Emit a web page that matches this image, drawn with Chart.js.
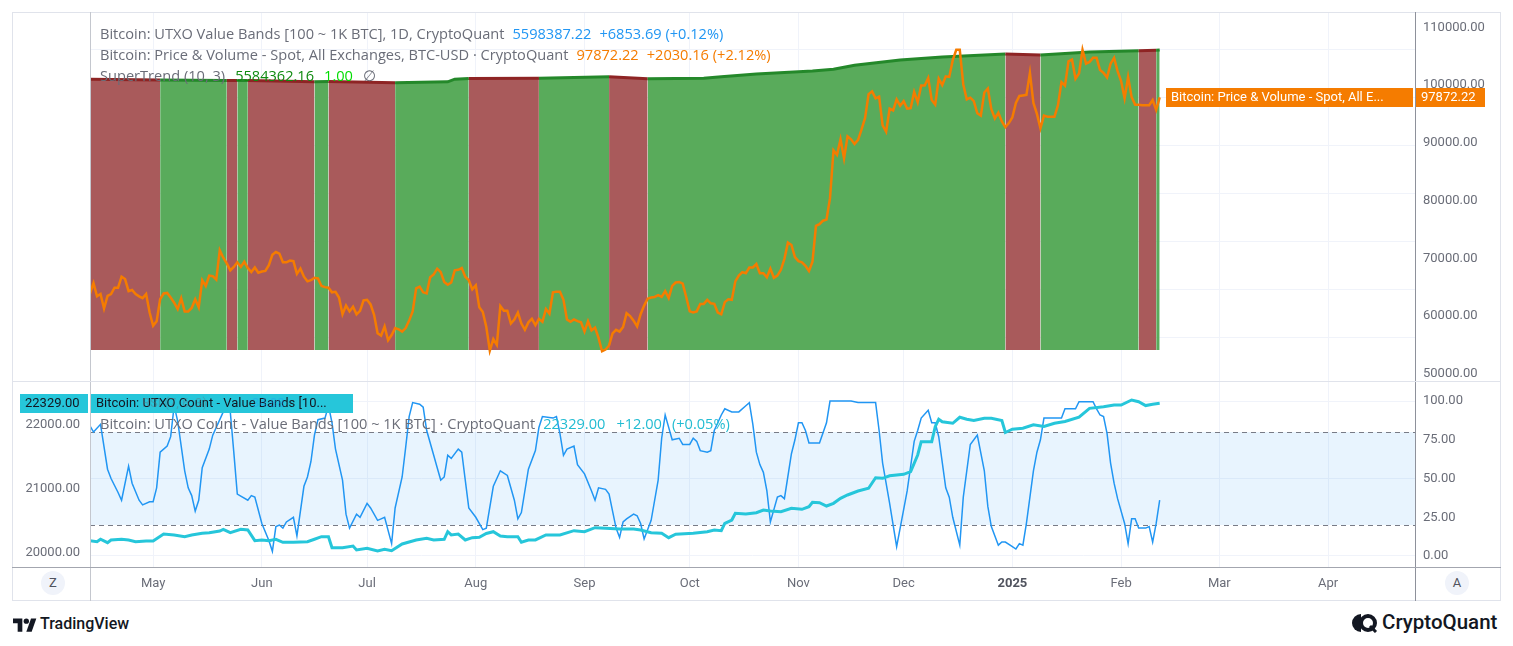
<!DOCTYPE html>
<html>
<head>
<meta charset="utf-8">
<title>Bitcoin: UTXO Value Bands [100 ~ 1K BTC]</title>
<script src="https://cdn.jsdelivr.net/npm/chart.js"></script>
<style>
  html, body { margin: 0; padding: 0; background: #ffffff; }
  body { position: relative; width: 1513px; height: 646px; overflow: hidden;
         font-family: Roboto, "Noto Sans", sans-serif; color: #6a6d78; }
  canvas { position: absolute; }
  #topPane { left: 12px; top: 13px; }
  #bottomPane { left: 12px; top: 381px; }
  .rule { position: absolute; }
  .legend { position: absolute; font-family: "Open Sans", "Noto Sans", sans-serif; font-size: 14.6px;
            line-height: 18px; white-space: nowrap; color: #6a6d78; }
  .legend span { margin-left: 8px; }
  .legend span.t { margin-left: 0; }
  .btn { position: absolute; width: 24px; height: 24px; border-radius: 50%; background: #f0f3fa;
         font-size: 13px; line-height: 24px; text-align: center; color: #50535e; }
  .brand { position: absolute; color: #131722; white-space: nowrap; }
</style>
</head>
<body>
<canvas id="topPane" width="1488" height="368"></canvas>
<canvas id="bottomPane" width="1488" height="219"></canvas>

<!-- frame of the chart -->
<div class="rule" style="left:12px;top:12px;width:1489px;height:589px;border:1px solid #e0e3eb;box-sizing:border-box"></div>
<div class="rule" style="left:90px;top:12px;width:1px;height:589px;background:#c4c7ce"></div>
<div class="rule" style="left:1415px;top:12px;width:1px;height:589px;background:#8e919b"></div>
<div class="rule" style="left:12px;top:381px;width:1489px;height:1px;background:#e0e3eb"></div>
<div class="rule" style="left:12px;top:567px;width:1489px;height:1px;background:#a3a6af"></div>
<div class="btn" style="left:41px;top:571px">Z</div>
<div class="btn" style="left:1445px;top:571px">A</div>

<!-- legends -->
<div class="legend" style="left:100px;top:24px"><span class="t">Bitcoin: UTXO Value Bands [100 ~ 1K BTC], 1D, CryptoQuant</span><span style="color:#2196f3">5598387.22</span><span style="color:#2196f3">+6853.69 (+0.12%)</span></div>
<div class="legend" style="left:100px;top:45px"><span class="t">Bitcoin: Price &amp; Volume - Spot, All Exchanges, BTC-USD · CryptoQuant</span><span style="color:#f57c00">97872.22</span><span style="color:#f57c00">+2030.16 (+2.12%)</span></div>
<div class="legend" style="left:100px;top:66px"><span class="t">SuperTrend (10, 3)</span><span style="color:#0f8a0f;margin-left:10px">5584362.16</span><span style="color:#00dd00;margin-left:10px">1.00</span><span style="margin-left:10px">∅</span></div>
<div class="legend" style="left:100px;top:414px"><span class="t">Bitcoin: UTXO Count - Value Bands [100 ~ 1K BTC] · CryptoQuant</span><span style="color:#22bcd2">22329.00</span><span style="color:#22bcd2;margin-left:11px">+12.00</span><span style="color:#22bcd2;margin-left:10px">(+0.05%)</span></div>

<!-- footer brands -->
<svg class="brand" style="left:13px;top:617px" width="24" height="15" viewBox="0 0 36 22">
  <path d="M14 22H7V9H0V2h14z" fill="#131722"/>
  <circle cx="20" cy="6" r="4" fill="#131722"/>
  <path d="M28 22h-8l7-20h8z" fill="#131722"/>
</svg>
<div class="brand" style="left:40px;top:614px;font-size:16px;line-height:20px;font-weight:500">TradingView</div>
<svg class="brand" style="left:1351px;top:613px" width="28" height="20" viewBox="0 0 28 20">
  <path d="M10 1 A9 9 0 0 0 10 19 Z" fill="#131722"/>
  <circle cx="17" cy="10" r="7" fill="none" stroke="#131722" stroke-width="4"/>
  <path d="M19 13 L25 19" stroke="#131722" stroke-width="3"/>
</svg>
<div class="brand" style="left:1382px;top:610px;font-size:20.5px;line-height:24px;font-weight:500">CryptoQuant</div>

<script>
const FONT = 'Roboto, "Noto Sans", sans-serif';
const START_DATE = '2024-04-13';   // first candle, x = day 0
const DAY_MS = 864e5;

// BTC-USD daily close, 2024-04-13 .. 2025-02-12
const priceApr = [63900, 65700, 63400, 63800, 61300, 63500, 63800, 64900, 64900, 66800, 66400, 64300, 64500, 63800, 63400, 63100, 63800, 60600];
const priceMay = [58300, 59100, 62900, 63900, 64000, 63200, 62300, 61200, 63100, 60800, 60800, 61400, 62900, 61500, 66200, 65200, 67000, 66900, 66300, 71400, 70100, 69100, 67900, 68500, 69300, 68500, 69400, 68300, 67600, 68400, 67500];
const priceJun = [67700, 67800, 68800, 70600, 71100, 70800, 69300, 69300, 69600, 69500, 67300, 68200, 66800, 66000, 66200, 66600, 66500, 65200, 65000, 64900, 64100, 64200, 63200, 60300, 61800, 60800, 61600, 60300, 60900, 62700];
const priceJul = [62800, 62000, 60200, 57000, 56600, 58200, 55800, 56700, 57900, 57700, 57300, 57900, 59200, 60800, 64800, 65100, 64100, 63900, 66700, 67200, 68200, 67600, 65900, 65400, 65800, 67900, 68000, 68300, 66800, 66200, 64600];
const priceAug = [65300, 61500, 60700, 58100, 54000, 56000, 55000, 61700, 60900, 60900, 58700, 59400, 60600, 58700, 57600, 58900, 59500, 58400, 59500, 59000, 61200, 60400, 64100, 64200, 64200, 62800, 59400, 59000, 59400, 59100, 58900];
const priceSep = [57300, 59100, 57500, 58000, 56200, 53900, 54200, 54900, 57000, 57600, 57300, 58100, 60500, 60000, 59200, 58200, 60300, 61800, 63000, 63200, 63300, 63600, 63300, 64300, 63100, 65200, 65800, 65900, 65600, 63300];
const priceOct = [60800, 60600, 60800, 62100, 62100, 62800, 62200, 62100, 60600, 60300, 62400, 62900, 62800, 66000, 67000, 67600, 67400, 68400, 68400, 69000, 67400, 67400, 66700, 68200, 66600, 67000, 68000, 69900, 72700, 72300, 70200];
const priceNov = [69500, 69300, 68700, 67800, 69400, 75600, 75900, 76500, 76700, 80400, 88700, 87900, 90600, 87300, 91100, 90600, 89800, 90500, 92300, 94300, 98400, 98900, 97700, 98000, 93000, 91900, 95900, 95600, 97500, 96400];
const priceDec = [97200, 95900, 96000, 98800, 97000, 99900, 99900, 101200, 97400, 96600, 101100, 100000, 101500, 101400, 104300, 106100, 106100, 100100, 97500, 97800, 97200, 95100, 94700, 98700, 99400, 95800, 94200, 95200, 93700, 92700, 93400];
const priceJan = [94400, 96900, 98100, 98200, 98300, 102100, 96900, 95000, 92500, 94700, 94500, 94500, 94500, 96500, 100500, 99900, 104100, 104400, 101100, 102000, 106100, 103700, 104000, 104700, 104700, 102600, 102100, 101300, 103700, 104700, 102400];
const priceFeb = [100700, 97700, 101400, 97900, 96600, 96600, 96500, 96500, 96500, 97400, 95700, 97872.22];
const priceClose = [].concat(priceApr, priceMay, priceJun, priceJul, priceAug, priceSep, priceOct, priceNov, priceDec, priceJan, priceFeb);

// UTXO value band line (millions), SuperTrend direction of the run that starts at each point
const bandDay   = [0, 20, 39, 42, 45, 64, 68, 87, 102, 104, 108, 128, 148, 159, 175, 180, 190, 206, 212, 218, 231, 243, 261, 271, 285, 299, 304, 305];
const bandValue = [4.988, 4.973, 4.960, 4.965, 4.960, 4.938, 4.940, 4.917, 4.935, 4.990, 5.004, 5.012, 5.042, 5.000, 5.010, 5.040, 5.100, 5.160, 5.196, 5.280, 5.390, 5.450, 5.515, 5.494, 5.556, 5.583, 5.595, 5.598];
const bandTrend = [-1, 1, -1, 1, -1, 1, -1, 1, 1, 1, -1, 1, -1, 1, 1, 1, 1, 1, 1, 1, 1, 1, -1, 1, 1, -1, 1, 1];
const BAND_BASE = -0.652;

// oscillator (0..100), lower pane right scale
const oscDay = [0, 1, 3, 5, 6, 8, 9, 11, 12, 14, 15, 17, 18, 19, 20, 22, 23, 24, 25, 27, 28, 29, 30, 31, 32, 34, 35, 37, 38, 39, 40, 41, 42, 45, 46, 47, 49, 51, 52, 53, 54, 55, 56, 58, 59, 61, 62, 63, 64, 65, 67, 68, 69, 70, 72, 73, 74, 76, 77, 79, 80, 82, 83, 84, 86, 87, 89, 90, 91, 92, 94, 95, 96, 98, 99, 100, 101, 102, 103, 105, 106, 107, 108, 110, 112, 113, 115, 117, 119, 121, 122, 123, 125, 127, 128, 129, 132, 133, 134, 135, 136, 138, 139, 141, 143, 144, 145, 147, 148, 149, 150, 151, 152, 153, 155, 156, 157, 158, 160, 162, 163, 164, 165, 166, 168, 169, 171, 172, 173, 174, 176, 177, 178, 180, 181, 183, 185, 187, 188, 189, 190, 191, 192, 193, 194, 196, 197, 198, 200, 201, 202, 203, 204, 205, 208, 210, 211, 217, 219, 224, 225, 226, 228, 230, 231, 233, 235, 236, 237, 239, 240, 241, 242, 244, 245, 246, 248, 249, 251, 253, 255, 256, 257, 259, 260, 261, 263, 264, 265, 266, 267, 269, 270, 271, 272, 277, 278, 281, 282, 286, 287, 288, 289, 290, 291, 292, 293, 295, 296, 297, 298, 299, 301, 302, 303, 304, 305];
const oscValue = [84, 80, 85, 56, 50, 41, 36, 58, 47, 36, 33, 35, 35, 44, 67, 71, 77, 97, 87, 55, 44, 39, 29, 36, 57, 69, 78, 88, 93, 98, 93, 67, 40, 36, 39, 38, 21, 10, 3, 19, 20, 18, 22, 25, 13, 45, 51, 61, 78, 88, 89, 97, 86, 69, 49, 27, 18, 27, 25, 34, 31, 23, 24, 25, 8, 31, 51, 70, 90, 99, 98, 96, 81, 65, 57, 49, 51, 65, 63, 69, 67, 49, 31, 25, 17, 18, 45, 55, 52, 36, 24, 28, 56, 68, 83, 90, 89, 90, 79, 65, 69, 71, 59, 53, 42, 36, 44, 43, 40, 29, 18, 12, 22, 24, 27, 26, 21, 11, 23, 49, 76, 91, 83, 75, 76, 72, 72, 76, 74, 68, 67, 68, 81, 91, 95, 93, 93, 97, 99, 85, 67, 59, 54, 42, 22, 38, 39, 37, 66, 75, 86, 86, 81, 73, 73, 86, 100, 100, 99, 99, 81, 60, 34, 6, 18, 42, 74, 81, 89, 94, 86, 86, 77, 44, 38, 25, 7, 38, 72, 78, 55, 32, 19, 7, 9, 9, 6, 4.5, 8, 7, 21, 55, 67, 75, 89, 89, 95, 95, 99.6, 99.6, 95, 91, 90, 79, 60, 47, 37, 21, 8, 24, 24, 18, 18, 19, 9, 21, 36];

// UTXO count, lower pane left scale
const countDay = [0, 2, 3, 5, 6, 9, 11, 13, 16, 18, 21, 24, 27, 29, 32, 34, 37, 38, 40, 43, 45, 47, 49, 51, 53, 55, 58, 62, 64, 66, 68, 69, 72, 75, 76, 79, 82, 84, 86, 89, 93, 96, 98, 101, 102, 103, 105, 107, 109, 111, 113, 115, 117, 119, 122, 123, 125, 127, 130, 134, 138, 141, 144, 147, 151, 155, 157, 160, 163, 165, 167, 172, 176, 178, 180, 181, 183, 184, 187, 190, 192, 194, 197, 200, 203, 205, 206, 208, 210, 212, 214, 216, 219, 222, 224, 226, 228, 232, 234, 236, 237, 240, 241, 242, 243, 246, 248, 250, 252, 255, 257, 260, 261, 263, 266, 269, 272, 275, 278, 282, 285, 289, 292, 294, 297, 299, 301, 303, 305];
const countValue = [20187, 20171, 20209, 20156, 20198, 20209, 20198, 20171, 20182, 20182, 20291, 20276, 20249, 20276, 20302, 20312, 20338, 20364, 20312, 20364, 20354, 20187, 20198, 20187, 20209, 20162, 20162, 20171, 20209, 20249, 20249, 20078, 20078, 20104, 20042, 20068, 20026, 20053, 20031, 20136, 20198, 20224, 20198, 20209, 20327, 20276, 20291, 20198, 20234, 20240, 20300, 20327, 20260, 20249, 20249, 20162, 20198, 20198, 20276, 20276, 20343, 20327, 20389, 20380, 20369, 20369, 20354, 20312, 20302, 20234, 20287, 20302, 20327, 20354, 20343, 20458, 20509, 20614, 20603, 20623, 20665, 20650, 20639, 20692, 20676, 20717, 20785, 20779, 20727, 20769, 20847, 20899, 20961, 21003, 21168, 21159, 21199, 21221, 21262, 21522, 21729, 21729, 21963, 22078, 22040, 22016, 22110, 22080, 22059, 22095, 22095, 22059, 21872, 21923, 21939, 21992, 21966, 22017, 22043, 22110, 22249, 22275, 22301, 22301, 22379, 22352, 22292, 22313, 22329];

// axes
const monthStart = ['2024-05-01', '2024-06-01', '2024-07-01', '2024-08-01', '2024-09-01', '2024-10-01', '2024-11-01', '2024-12-01', '2025-01-01', '2025-02-01', '2025-03-01', '2025-04-01'];
const monthLabel = ['May', 'Jun', 'Jul', 'Aug', 'Sep', 'Oct', 'Nov', 'Dec', '2025', 'Feb', 'Mar', 'Apr'];
const priceTicks = [50000, 60000, 70000, 80000, 90000, 100000, 110000];
const bandGridTicks = [5.6, 4.6, 3.6, 2.6, 1.6, 0.6, -0.4];
const oscTicks = [0, 25, 50, 75, 100];
const countTicks = [20000, 21000, 22000];
const oscLevels = [20, 80];
const oscLastShown = 34.88;

const ORANGE = '#f57c00', BLUE = '#2196f3', CYAN = '#26c6da';
const GREEN_FILL = '#59ab5b', RED_FILL = '#a95a5b', GREEN_LINE = '#24882a', RED_LINE = '#8e2424';
const GRID = '#f0f3fa', TEXT = '#6a6d78';

const dayOf = s => (Date.parse(s) - Date.parse(START_DATE)) / DAY_MS;
const monthDay = monthStart.map(dayOf);
const yearDay = dayOf('2025-01-01');
const X_MAX = 377.8;

Chart.defaults.font.family = FONT;
Chart.defaults.color = TEXT;

function xAxis(withLabels) {
    return {
        type: 'linear', position: 'bottom', min: 0, max: X_MAX,
        grid: { color: GRID, drawTicks: false },
        border: { display: false },
        afterBuildTicks: s => { s.ticks = monthDay.map(v => ({ value: v })); },
        ticks: {
            display: withLabels, autoSkip: false, maxRotation: 0, padding: 9,
            color: c => (c.tick && c.tick.value === yearDay ? '#50535e' : TEXT),
            font: c => ({ family: FONT, size: 13, weight: c.tick && c.tick.value === yearDay ? 'bold' : 'normal' }),
            callback: (v, i) => monthLabel[i]
        },
        afterFit: s => { s.height = withLabels ? 33 : 0; s.paddingLeft = 0; s.paddingRight = 0; }
    };
}

function yAxis(pos, min, max, ticks, width, extra) {
    return Object.assign({
        position: pos, min: min, max: max,
        afterBuildTicks: s => { s.ticks = ticks.map(v => ({ value: v })); },
        border: { display: false },
        grid: { display: false, drawTicks: false },
        ticks: { padding: pos === 'left' ? 10 : 8, color: TEXT, font: { size: 13 }, callback: v => v.toFixed(2) },
        afterFit: s => { s.width = width; s.paddingTop = 0; s.paddingBottom = 0; }
    }, extra || {});
}

function drawTag(ctx, x, yc, w, bg, text, color) {
    ctx.fillStyle = bg;
    ctx.fillRect(x, Math.round(yc) - 9, w, 19);
    ctx.fillStyle = color;
    ctx.font = '13px ' + FONT;
    ctx.textBaseline = 'middle';
    ctx.textAlign = 'left';
    ctx.fillText(text, x + 5, Math.round(yc) + 1);
}

// ---- top pane: value bands + price ----
const bandRuns = [];
let runStart = 0;
for (let i = 1; i < bandDay.length; i++) {
    if (i === bandDay.length - 1 || bandTrend[i] !== bandTrend[runStart]) {
        bandRuns.push({ from: runStart, to: i, trend: bandTrend[runStart] });
        runStart = i;
    }
}

const bandFills = bandRuns.map(r => ({
    data: bandDay.slice(r.from, r.to + 1).map((d, k) => ({ x: d, y: bandValue[r.from + k] })),
    yAxisID: 'yBand',
    borderWidth: 0,
    pointRadius: 0,
    backgroundColor: r.trend > 0 ? GREEN_FILL : RED_FILL,
    fill: { value: BAND_BASE }
}));

const lastPriceTag = {
    id: 'lastPriceTag',
    afterDraw(chart) {
        const { ctx, chartArea: a, scales } = chart;
        const last = priceClose[priceClose.length - 1];
        const y = scales.yPrice.getPixelForValue(last);
        ctx.save();
        drawTag(ctx, a.right - 249, y, 247, ORANGE, 'Bitcoin: Price & Volume - Spot, All E...', '#ffffff');
        drawTag(ctx, a.right + 1, y, 69, ORANGE, last.toFixed(2), '#ffffff');
        ctx.restore();
    }
};

new Chart(document.getElementById('topPane'), {
    type: 'line',
    data: {
        datasets: [
            {
                data: priceClose.map((v, i) => ({ x: i, y: v })),
                yAxisID: 'yPrice',
                borderColor: ORANGE, borderWidth: 2.5, pointRadius: 0, tension: 0, fill: false
            },
            {
                data: bandDay.map((d, i) => ({ x: d, y: bandValue[i] })),
                yAxisID: 'yBand',
                borderWidth: 3, pointRadius: 0, fill: false,
                borderColor: GREEN_LINE,
                segment: { borderColor: c => (bandTrend[c.p0DataIndex] > 0 ? GREEN_LINE : RED_LINE) }
            }
        ].concat(bandFills)
    },
    options: {
        responsive: false, animation: false, devicePixelRatio: 1,
        layout: { padding: { left: 78, top: 0, right: 0, bottom: 0 } },
        plugins: { legend: { display: false }, tooltip: { enabled: false } },
        scales: {
            x: xAxis(false),
            yPrice: yAxis('right', 48745, 112470, priceTicks, 85),
            yBand: yAxis('left', -1.2977, 6.3688, bandGridTicks, 0, {
                grid: { display: true, color: GRID, drawTicks: false },
                ticks: { display: false }
            })
        }
    },
    plugins: [lastPriceTag]
});

// ---- bottom pane: UTXO count + oscillator ----
const oscBand = {
    id: 'oscBand',
    beforeDatasetsDraw(chart) {
        const { ctx, chartArea: a, scales } = chart;
        const yHi = scales.yOsc.getPixelForValue(Math.max(...oscLevels));
        const yLo = scales.yOsc.getPixelForValue(Math.min(...oscLevels));
        ctx.save();
        ctx.fillStyle = 'rgba(33,150,243,0.1)';
        ctx.fillRect(a.left, yHi, a.right - a.left, yLo - yHi);
        ctx.strokeStyle = '#787b86';
        ctx.lineWidth = 1;
        ctx.setLineDash([5, 4]);
        oscLevels.forEach(v => {
            const y = Math.round(scales.yOsc.getPixelForValue(v)) + 0.5;
            ctx.beginPath();
            ctx.moveTo(a.left, y);
            ctx.lineTo(a.right, y);
            ctx.stroke();
        });
        ctx.restore();
    }
};

const lastCountTag = {
    id: 'lastCountTag',
    afterDraw(chart) {
        const { ctx, chartArea: a, scales } = chart;
        const last = countValue[countValue.length - 1];
        const y = scales.yCount.getPixelForValue(last);
        ctx.save();
        drawTag(ctx, a.left - 70, y, 68, CYAN, last.toFixed(2), '#131722');
        drawTag(ctx, a.left + 1, y, 262, CYAN, 'Bitcoin: UTXO Count - Value Bands [10...', '#131722');
        // oscillator legend showing through the tag
        ctx.globalAlpha = 0.4;
        ctx.fillStyle = '#6a6d78';
        ctx.fillText('RSI (7, 6, 3)', a.left + 52, Math.round(y) + 1);
        ctx.fillStyle = BLUE;
        ctx.fillText(oscLastShown.toFixed(2), a.left + 162, Math.round(y) + 1);
        ctx.restore();
    }
};

new Chart(document.getElementById('bottomPane'), {
    type: 'line',
    data: {
        datasets: [
            {
                data: countDay.map((d, i) => ({ x: d, y: countValue[i] })),
                yAxisID: 'yCount',
                borderColor: CYAN, borderWidth: 3, pointRadius: 0, tension: 0, fill: false
            },
            {
                data: oscDay.map((d, i) => ({ x: d, y: oscValue[i] })),
                yAxisID: 'yOsc',
                borderColor: BLUE, borderWidth: 1.5, pointRadius: 0, tension: 0, fill: false
            }
        ]
    },
    options: {
        responsive: false, animation: false, devicePixelRatio: 1,
        layout: { padding: { left: 0, top: 1, right: 0, bottom: 0 } },
        plugins: { legend: { display: false }, tooltip: { enabled: false } },
        scales: {
            x: xAxis(true),
            yCount: yAxis('left', 19777, 22659, countTicks, 78),
            yOsc: yAxis('right', -7.1, 112.3, oscTicks, 85, {
                grid: { display: true, drawTicks: false, color: c => (c.tick && c.tick.value % 50 === 0 ? GRID : 'rgba(0,0,0,0)') }
            })
        }
    },
    plugins: [oscBand, lastCountTag]
});
</script>
</body>
</html>
